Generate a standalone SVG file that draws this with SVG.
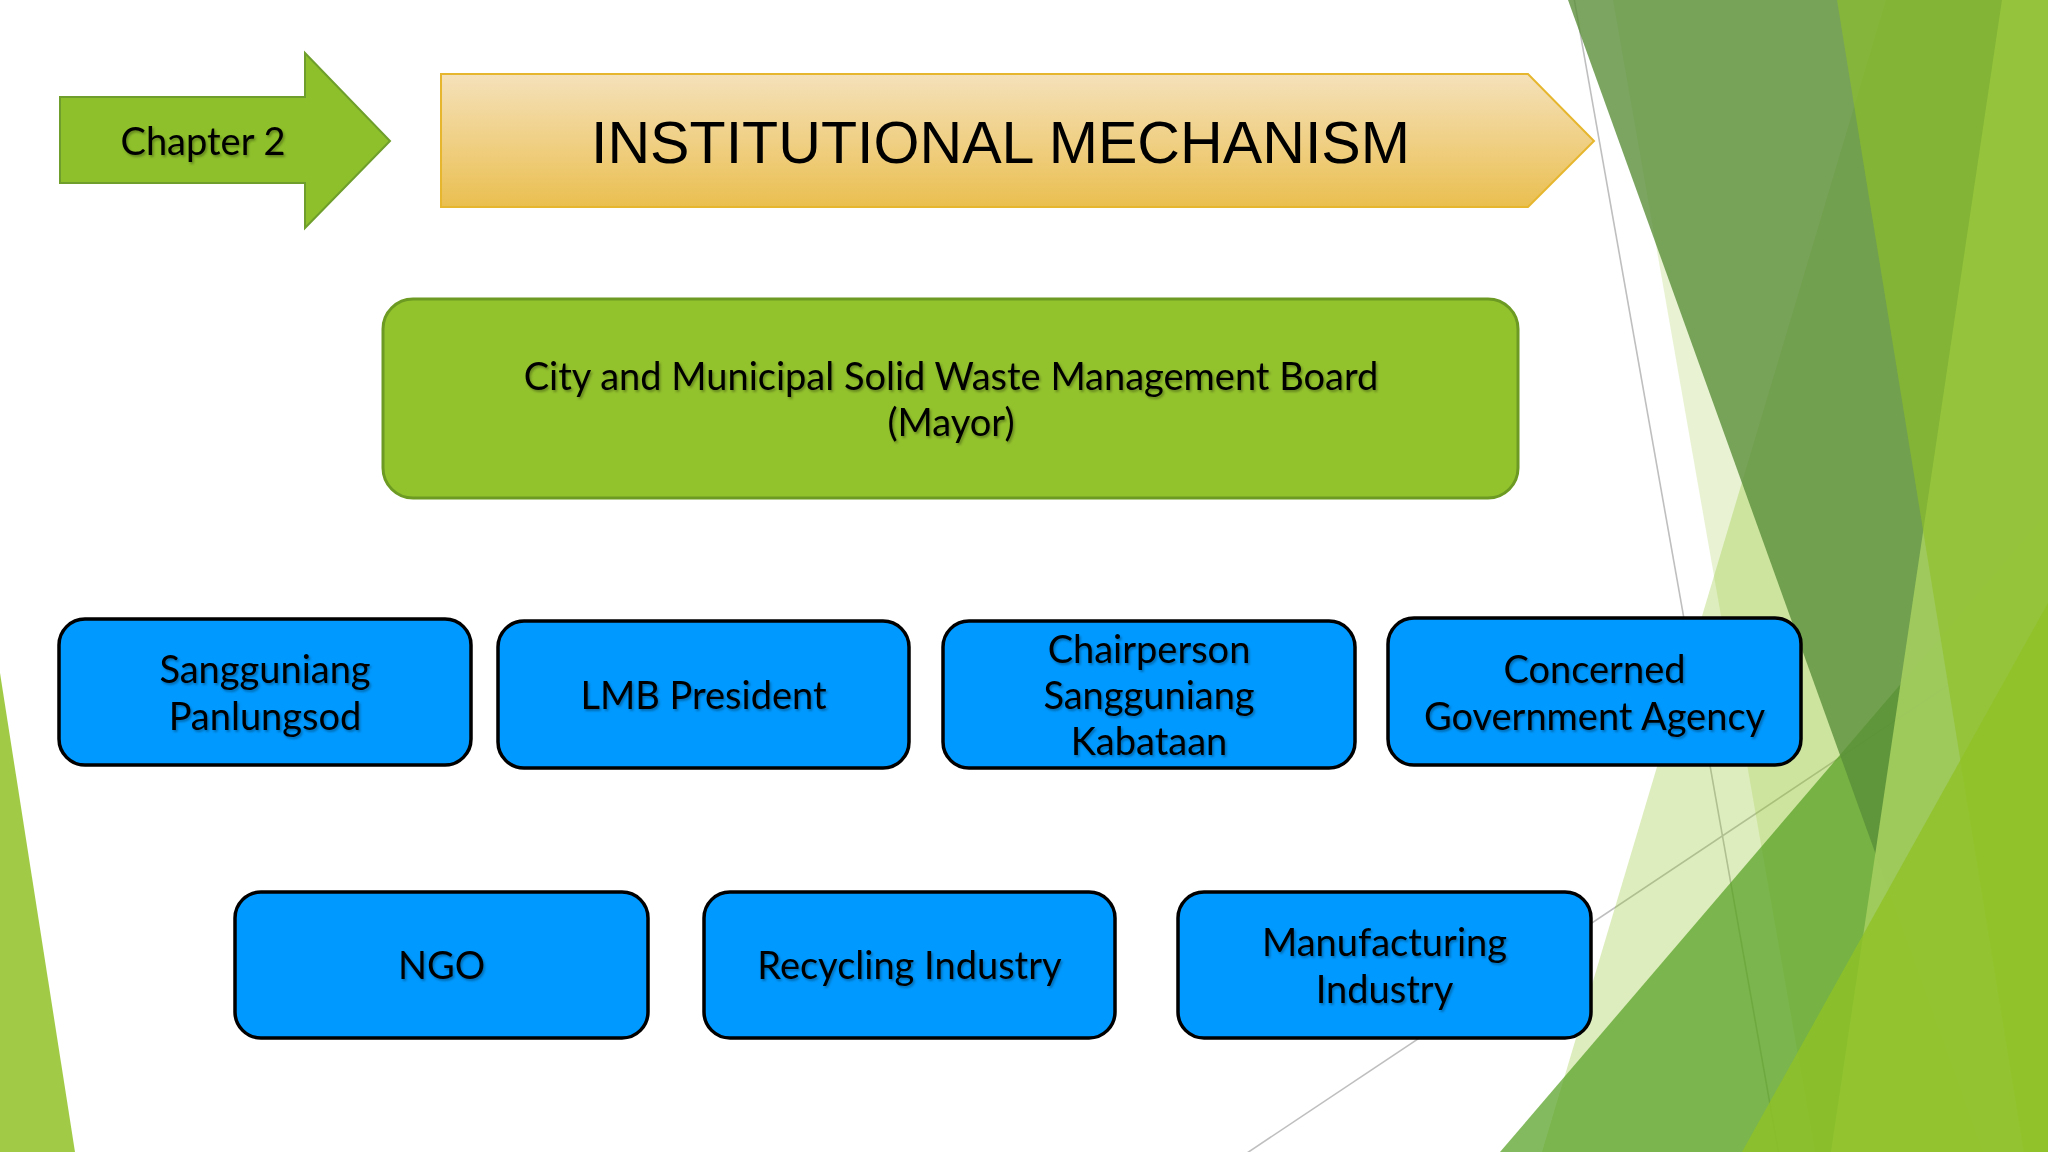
<svg xmlns="http://www.w3.org/2000/svg" width="2048" height="1152" viewBox="0 0 2048 1152">
<defs>
  <linearGradient id="gold" x1="0" y1="0" x2="0" y2="1">
    <stop offset="0" stop-color="#F5E1BA"/>
    <stop offset="1" stop-color="#EABF50"/>
  </linearGradient>
  <filter id="ts" x="-5%" y="-30%" width="110%" height="160%">
    <feDropShadow dx="1.5" dy="2" stdDeviation="1" flood-color="#000" flood-opacity="0.3"/>
  </filter>
</defs>
<style>
  .facetline{stroke:#BFBFBF;stroke-width:1.6;fill:none}
  .blue{fill:#0099FF;stroke:#000;stroke-width:3.5}
  .lbl{font-family:Lato,"Open Sans","DejaVu Sans",sans-serif;font-size:38px;fill:#000;text-anchor:middle;filter:url(#ts)}
</style>
<rect width="2048" height="1152" fill="#FFFFFF"/>

<g id="background">
  <line class="facetline" x1="1574" y1="-2" x2="1779" y2="1155"/>
  <line class="facetline" x1="1247" y1="1153" x2="2049" y2="618"/>
  <polygon points="1886,0 2048,0 2048,1152 1542,1152" fill="#90C226" fill-opacity="0.30"/>
  <polygon points="1613,0 2048,0 2048,1152 1815,1152" fill="#90C226" fill-opacity="0.20"/>
  <polygon points="2048,512 2048,1152 1500,1152" fill="#54A021" fill-opacity="0.72"/>
  <polygon points="1568,0 2048,0 2048,1152 1983,1152" fill="#5A8E3A" fill-opacity="0.8"/>
  <polygon points="2002,0 2048,0 2048,1152 1831,1152" fill="#A3CC5E" fill-opacity="0.93"/>
  <polygon points="1837,0 2048,0 2048,1152 2024,1152" fill="#90C226" fill-opacity="0.6"/>
  <polygon points="2048,603 2048,1152 1742,1152" fill="#90C226" fill-opacity="0.8"/>
  <polygon points="0,673 0,1152 75,1152" fill="#90C226" fill-opacity="0.85"/>
</g>

<g id="chapter">
  <polygon points="60,97 305,97 305,53 390,141 305,228 305,183 60,183" fill="#8DC02A" stroke="#6F9E2C" stroke-width="2"/>
  <text x="203" y="155" class="lbl" fill="#111">Chapter 2</text>
</g>

<g id="title">
  <polygon points="441,74 1528,74 1594,141 1528,207 441,207" fill="url(#gold)" stroke="#E6B62E" stroke-width="2"/>
  <text x="591" y="163" font-family="'Liberation Sans',Arial,sans-serif" font-size="59" fill="#000" textLength="819" lengthAdjust="spacingAndGlyphs">INSTITUTIONAL MECHANISM</text>
</g>

<g id="board">
  <rect x="383" y="299" width="1135" height="199" rx="30" fill="#92C22C" stroke="#6C9A22" stroke-width="3"/>
  <text class="lbl" x="951" y="390">City and Municipal Solid Waste Management Board</text>
  <text class="lbl" x="951" y="436">(Mayor)</text>
</g>

<g id="sangguniang-panlungsod">
  <rect class="blue" x="59" y="619" width="412" height="146" rx="26"/>
  <text class="lbl" x="265" y="683">Sangguniang</text>
  <text class="lbl" x="265" y="730">Panlungsod</text>
</g>

<g id="lmb-president">
  <rect class="blue" x="498" y="621" width="411" height="147" rx="26"/>
  <text class="lbl" x="703.5" y="709">LMB President</text>
</g>

<g id="chairperson-sk">
  <rect class="blue" x="943" y="621" width="412" height="147" rx="26"/>
  <text class="lbl" x="1149" y="663">Chairperson</text>
  <text class="lbl" x="1149" y="709">Sangguniang</text>
  <text class="lbl" x="1149" y="755">Kabataan</text>
</g>

<g id="concerned-agency">
  <rect class="blue" x="1388" y="618" width="413" height="147" rx="26"/>
  <text class="lbl" x="1594.5" y="683">Concerned</text>
  <text class="lbl" x="1594.5" y="730">Government Agency</text>
</g>

<g id="ngo">
  <rect class="blue" x="235" y="892" width="413" height="146" rx="26"/>
  <text class="lbl" x="441.5" y="979">NGO</text>
</g>

<g id="recycling-industry">
  <rect class="blue" x="704" y="892" width="411" height="146" rx="26"/>
  <text class="lbl" x="909.5" y="979">Recycling Industry</text>
</g>

<g id="manufacturing-industry">
  <rect class="blue" x="1178" y="892" width="413" height="146" rx="26"/>
  <text class="lbl" x="1384.5" y="956">Manufacturing</text>
  <text class="lbl" x="1384.5" y="1003">Industry</text>
</g>

<g id="connectors"></g>
</svg>
